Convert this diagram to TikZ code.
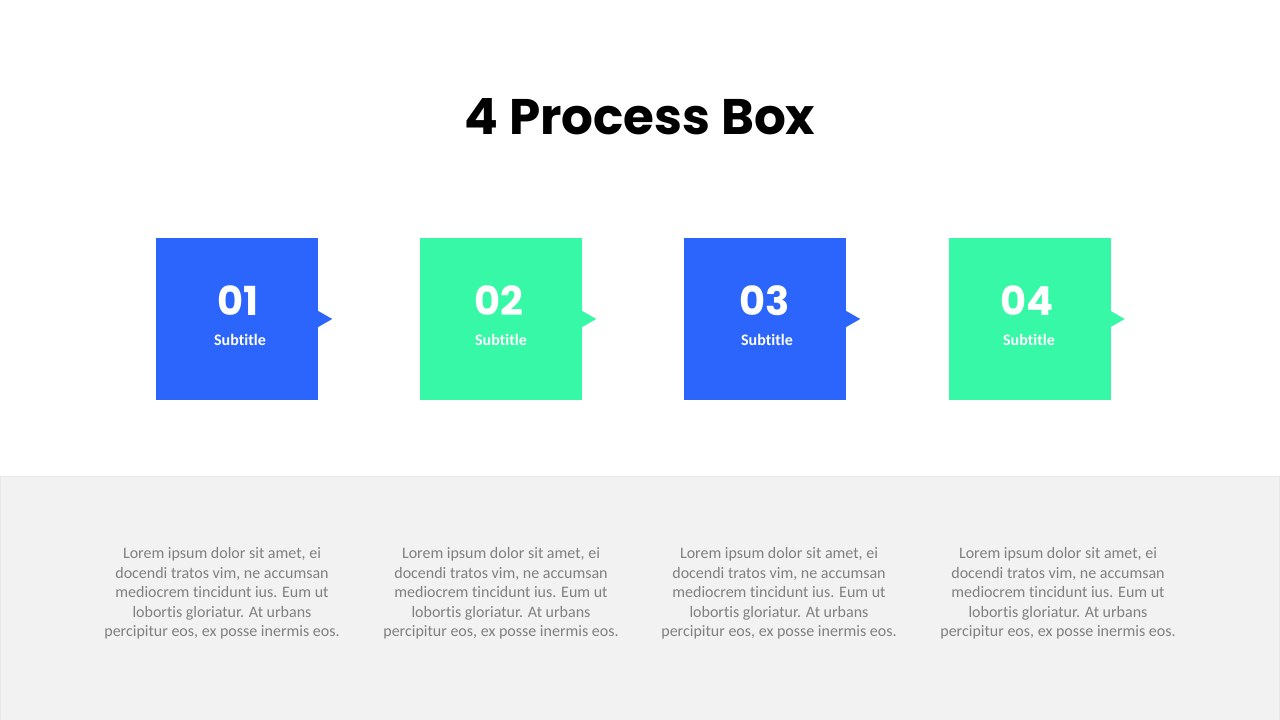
\documentclass[tikz,border=0pt]{standalone}
\usepackage{fontspec}
\setmainfont{Carlito}[Ligatures=NoCommon]
\newfontfamily\titlefont{Poppins}
\usetikzlibrary{calc}
\definecolor{pblue}{HTML}{2B65FB}
\definecolor{pgreen}{HTML}{36F8A6}
\definecolor{panel}{HTML}{F2F2F2}
\definecolor{panelline}{HTML}{E9E9E9}
\definecolor{bodygray}{HTML}{808080}
\begin{document}
\begin{tikzpicture}[x=1pt,y=-1pt,
  stepbox/.style={minimum width=162pt,minimum height=162pt,inner sep=0pt,draw=none},
  numtext/.style={text=white,font=\titlefont\bfseries\fontsize{40}{40}\selectfont,inner sep=0pt},
  subtext/.style={text=white,font=\bfseries\fontsize{16}{16}\selectfont,inner sep=0pt},
  bodytext/.style={text=bodygray,align=center,font=\fontsize{16}{19.5}\selectfont,inner sep=0pt}]
\useasboundingbox (0,0) rectangle (1280,720);
\fill[white] (0,0) rectangle (1280,720);
\filldraw[fill=panel,draw=panelline,line width=1pt] (0.5,476.5) rectangle (1279.5,720.5);
\node[font=\titlefont\bfseries\fontsize{50}{50}\selectfont,inner sep=0pt] (title) at (640,117) {4 Process Box};
\foreach \i/\cx/\col/\tx/\nx/\sx in {1/237/pblue/222/238/240,2/501/pgreen/501/499/501,3/765/pblue/779/765/767,4/1029.5/pgreen/1058/1027/1029}{
  \node[stepbox,fill=\col] (b\i) at (\cx,319) {};
  \fill[\col] ($(b\i.east)+(0,-8)$) -- ($(b\i.east)+(14,0)$) -- ($(b\i.east)+(0,8)$) -- cycle;
  \node[numtext] (n\i) at (\nx,301) {0\i};
  \node[subtext] (s\i) at (\sx,340) {Subtitle};
  \node[bodytext] (t\i) at (\tx,593.5) {Lorem ipsum dolor sit amet, ei\\docendi tratos vim, ne accumsan\\mediocrem tincidunt ius. Eum ut\\lobortis gloriatur. At urbans\\percipitur eos, ex posse inermis eos.};
}
\end{tikzpicture}
\end{document}
